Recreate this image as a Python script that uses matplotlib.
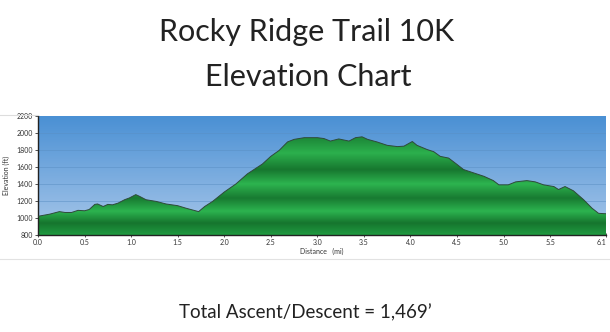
import numpy as np
import matplotlib.pyplot as plt
from matplotlib.colors import LinearSegmentedColormap
from matplotlib.lines import Line2D

# profile (mi, ft)
dist = [0.0, 0.125, 0.23, 0.29, 0.36, 0.43, 0.5, 0.55, 0.61, 0.64, 0.70, 0.75, 0.80, 0.86,
        0.93, 0.98, 1.05, 1.09, 1.16, 1.27, 1.375, 1.5, 1.59, 1.725, 1.79, 1.875, 2.0,
        2.125, 2.25, 2.41, 2.5, 2.59, 2.68, 2.75, 2.86, 3.0, 3.07, 3.14, 3.23, 3.34, 3.41,
        3.48, 3.54, 3.64, 3.75, 3.86, 3.93, 4.02, 4.07, 4.18, 4.25, 4.32, 4.41, 4.5, 4.57,
        4.68, 4.79, 4.89, 4.95, 5.05, 5.13, 5.25, 5.34, 5.43, 5.54, 5.59, 5.66, 5.75, 5.86,
        5.95, 6.02, 6.1]
elev = [1020, 1045, 1075, 1065, 1065, 1090, 1085, 1100, 1160, 1165, 1135, 1160, 1155, 1175,
        1215, 1235, 1275, 1255, 1215, 1195, 1165, 1145, 1115, 1075, 1135, 1195, 1305,
        1400, 1520, 1635, 1725, 1795, 1895, 1925, 1945, 1945, 1935, 1905, 1930, 1905, 1945,
        1955, 1925, 1895, 1855, 1840, 1845, 1900, 1855, 1805, 1780, 1725, 1705, 1630, 1570,
        1530, 1490, 1440, 1390, 1390, 1425, 1440, 1425, 1390, 1370, 1335, 1370, 1320, 1215,
        1115, 1055, 1050]

x_ticks = [0.0, 0.5, 1.0, 1.5, 2.0, 2.5, 3.0, 3.5, 4.0, 4.5, 5.0, 5.5, 6.1]
y_ticks = [800, 1000, 1200, 1400, 1600, 1800, 2000, 2200]

title1 = "Rocky Ridge Trail 10K"
title2 = "Elevation Chart"
footer = "Total Ascent/Descent = 1,469\u2019"

plt.rcParams["font.family"] = ["Lato", "DejaVu Sans"]

fig = plt.figure(figsize=(6.1, 3.32), dpi=100)
ax = fig.add_axes([38/610, 97/332, 568/610, 119/332])

# faint frame of the chart image
fig.add_artist(Line2D([0, 38/610], [1-115/332]*2, color="#dddddd", lw=0.8))
fig.add_artist(Line2D([0, 1], [1-259/332]*2, color="#e2e2e2", lw=0.8))

x0, x1, y0, y1 = 0, 6.1, 800, 2200
ax.set_xlim(x0, x1)
ax.set_ylim(y0, y1)

# sky gradient
sky = LinearSegmentedColormap.from_list("sky", ["#aac8ea", "#4a90d4"])
ax.imshow(np.linspace(0, 1, 256).reshape(-1, 1), cmap=sky, origin="lower",
          extent=[x0, x1, y0, y1], aspect="auto", zorder=0)

for yt in y_ticks[1:-1]:
    ax.axhline(yt, color="#5a8fc4", lw=0.6, alpha=0.6, zorder=1)

# banded green fill
band = LinearSegmentedColormap.from_list("band", [
    (0.00, "#1f9a40"), (0.10, "#16752e"), (0.20, "#2cb34f"), (0.31, "#187a31"),
    (0.43, "#2db44f"), (0.55, "#17772f"), (0.69, "#2cb04d"), (0.80, "#1f8d3b"),
    (1.00, "#1f8d3b")])
poly = ax.fill_between(dist, elev, y0, color="none", zorder=2)
img = ax.imshow(np.linspace(0, 1, 256).reshape(-1, 1), cmap=band, origin="lower",
                extent=[x0, x1, y0, y1], aspect="auto", zorder=2)
img.set_clip_path(poly.get_paths()[0], transform=ax.transData)
ax.plot(dist, elev, color="#2f4a3a", lw=0.7, zorder=3)

ax.set_xticks(x_ticks)
ax.set_xticklabels(["%.1f" % v for v in x_ticks])
ax.set_yticks(y_ticks)
ax.tick_params(labelsize=5, colors="#333333", length=2, width=0.6, pad=1.5)
ax.tick_params(axis="x", direction="inout", length=3)
ax.get_xticklabels()[-1].set_horizontalalignment("right")
for s in ["top", "right"]:
    ax.spines[s].set_visible(False)
for s in ["left", "bottom"]:
    ax.spines[s].set_color("#222222")
    ax.spines[s].set_linewidth(1.0)
ax.set_xlabel("Distance   (mi)", fontsize=5, color="#333333", labelpad=1)
ax.set_ylabel("Elevation (ft)", fontsize=5, color="#333333", labelpad=5)

fig.text(0.502, 1-40.7/332, title1, ha="center", va="baseline", fontsize=22, color="#222222")
fig.text(0.505, 1-86/332, title2, ha="center", va="baseline", fontsize=22, color="#222222")
fig.text(0.5, 0.057, footer, ha="center", va="center", fontsize=13.5, color="#222222")

fig.savefig("out.png", dpi=100)
